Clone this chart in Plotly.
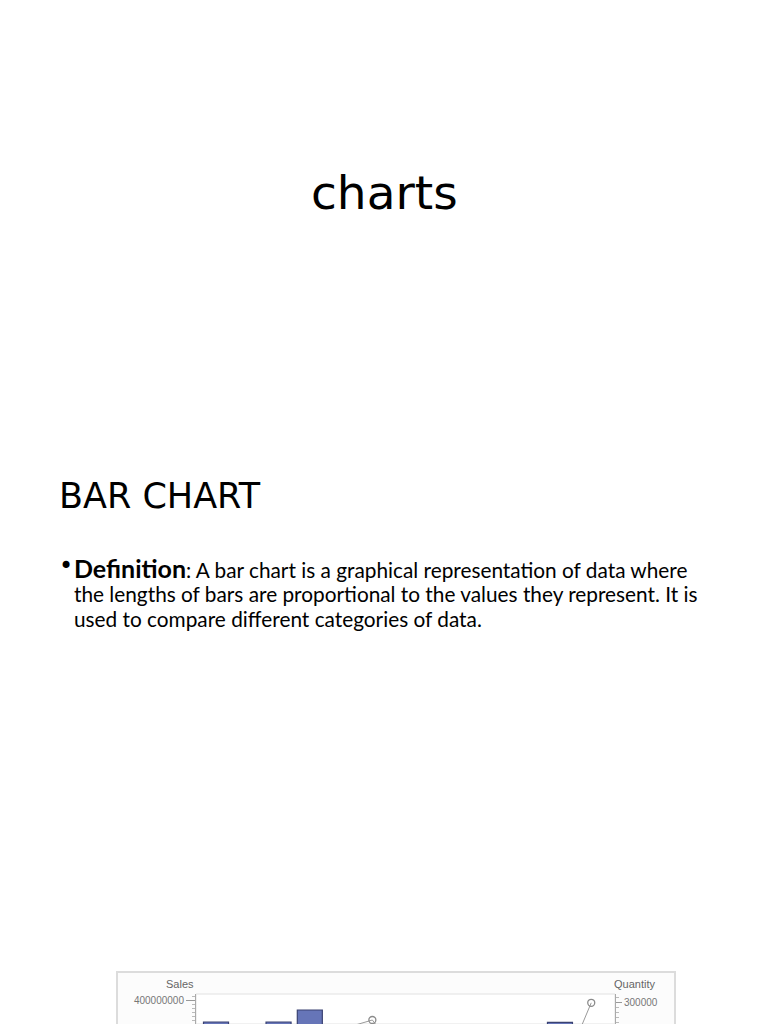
import plotly.graph_objects as go

# ---- data ----
categories = ["1", "2", "3", "4", "5", "6", "7", "8", "9", "10", "11", "12", "13"]
sales = [345e6, 300e6, 345e6, 375e6, 290e6, 280e6, 260e6, 270e6, 300e6, 310e6, 320e6, 344e6, 330e6]
quantity = [200000, 190000, 210000, 220000, 232000, 255000, 150000, 160000, 170000, 140000, 130000, 112000, 298000]
sales_ticks = [400000000]
sales_tick_text = ["400000000"]
qty_ticks = [300000]
qty_tick_text = ["300000"]

title_text = "charts"
heading_text = "BAR CHART"
body_lines = [
    "<span style='font-size:25px'><b>Definition</b></span>: A bar chart is a graphical representation of data where",
    "the lengths of bars are proportional to the values they represent. It is",
    "used to compare different categories of data.",
]

# page is offset by the 8px default body margin
OFF = 8
W, H = 760, 1016
def px(x):
    return (x - OFF) / W
def py(y):
    return 1 - (y - OFF) / H

fig = go.Figure()

fig.add_trace(go.Bar(
    x=list(range(len(categories))), y=sales, width=0.8,
    marker=dict(color="#6675b8", line=dict(color="#3a4272", width=1.2)),
    yaxis="y", showlegend=False,
))
fig.add_trace(go.Scatter(
    x=list(range(len(categories))), y=quantity, mode="lines+markers",
    line=dict(color="#9a9a9a", width=1),
    marker=dict(symbol="circle-open", size=7, color="#8a8a8a", line=dict(width=1.3)),
    yaxis="y2", showlegend=False, cliponaxis=True,
))

body_font = "Lato"
annotations = [
    dict(text=title_text, x=px(384), y=py(192), xref="paper", yref="paper", showarrow=False,
         xanchor="center", yanchor="middle", font=dict(family="DejaVu Sans", size=47, color="#000")),
    dict(text=heading_text, x=px(57), y=py(496), xref="paper", yref="paper", showarrow=False,
         xanchor="left", yanchor="middle", font=dict(family="DejaVu Sans", size=35, color="#000")),
    dict(text="•", x=px(57), y=py(566), xref="paper", yref="paper", showarrow=False,
         xanchor="left", yanchor="middle", font=dict(family="DejaVu Sans", size=24, color="#000")),
    dict(text="Sales", x=px(196), y=py(984), xref="paper", yref="paper", showarrow=False,
         xanchor="right", yanchor="middle", font=dict(family="Liberation Sans", size=11, color="#666")),
    dict(text="Quantity", x=px(612), y=py(984), xref="paper", yref="paper", showarrow=False,
         xanchor="left", yanchor="middle", font=dict(family="Liberation Sans", size=11, color="#666")),
]
for i, line in enumerate(body_lines):
    annotations.append(dict(text=line, x=px(72), y=py(568 + 25 * i), xref="paper", yref="paper",
                            showarrow=False, xanchor="left", yanchor="middle",
                            font=dict(family=body_font, size=20.8, color="#000")))

shapes = [
    dict(type="rect", xref="paper", yref="paper", x0=px(117), x1=px(675), y0=-0.05, y1=py(972),
         line=dict(color="#dcdcdc", width=2), fillcolor="#fcfcfc", layer="below"),
    dict(type="rect", xref="x domain", yref="y domain", x0=0, x1=1, y0=0, y1=1,
         line=dict(color="#e2e2e2", width=1), fillcolor="white", layer="below"),
]

fig.update_layout(
    width=W, height=H, autosize=False,
    margin=dict(l=0, r=0, t=0, b=0),
    paper_bgcolor="white", plot_bgcolor="rgba(0,0,0,0)",
    bargap=0.2,
    xaxis=dict(domain=[px(196), px(615)], range=[-0.64, 12.76], showticklabels=False,
               showgrid=False, zeroline=False, showline=False, ticks=""),
    yaxis=dict(domain=[0, py(994)], range=[340e6, 415e6], tickvals=sales_ticks, ticktext=sales_tick_text,
               ticks="outside", ticklen=9, tickcolor="#999", showline=True, linecolor="#aaa",
               showgrid=False, zeroline=False,
               tickfont=dict(family="Liberation Sans", size=10, color="#777"),
               minor=dict(dtick=10e6, ticks="outside", ticklen=3, tickcolor="#bbb", showgrid=False)),
    yaxis2=dict(overlaying="y", side="right", range=[245000, 320000], anchor="x",
                tickvals=qty_ticks, ticktext=qty_tick_text,
                ticks="outside", ticklen=6, tickcolor="#999", showline=True, linecolor="#aaa",
                showgrid=False, zeroline=False,
                tickfont=dict(family="Liberation Sans", size=10, color="#777"),
                minor=dict(dtick=12500, ticks="outside", ticklen=3, tickcolor="#bbb", showgrid=False)),
    annotations=annotations,
    shapes=shapes,
)

fig.write_html("out.html")
